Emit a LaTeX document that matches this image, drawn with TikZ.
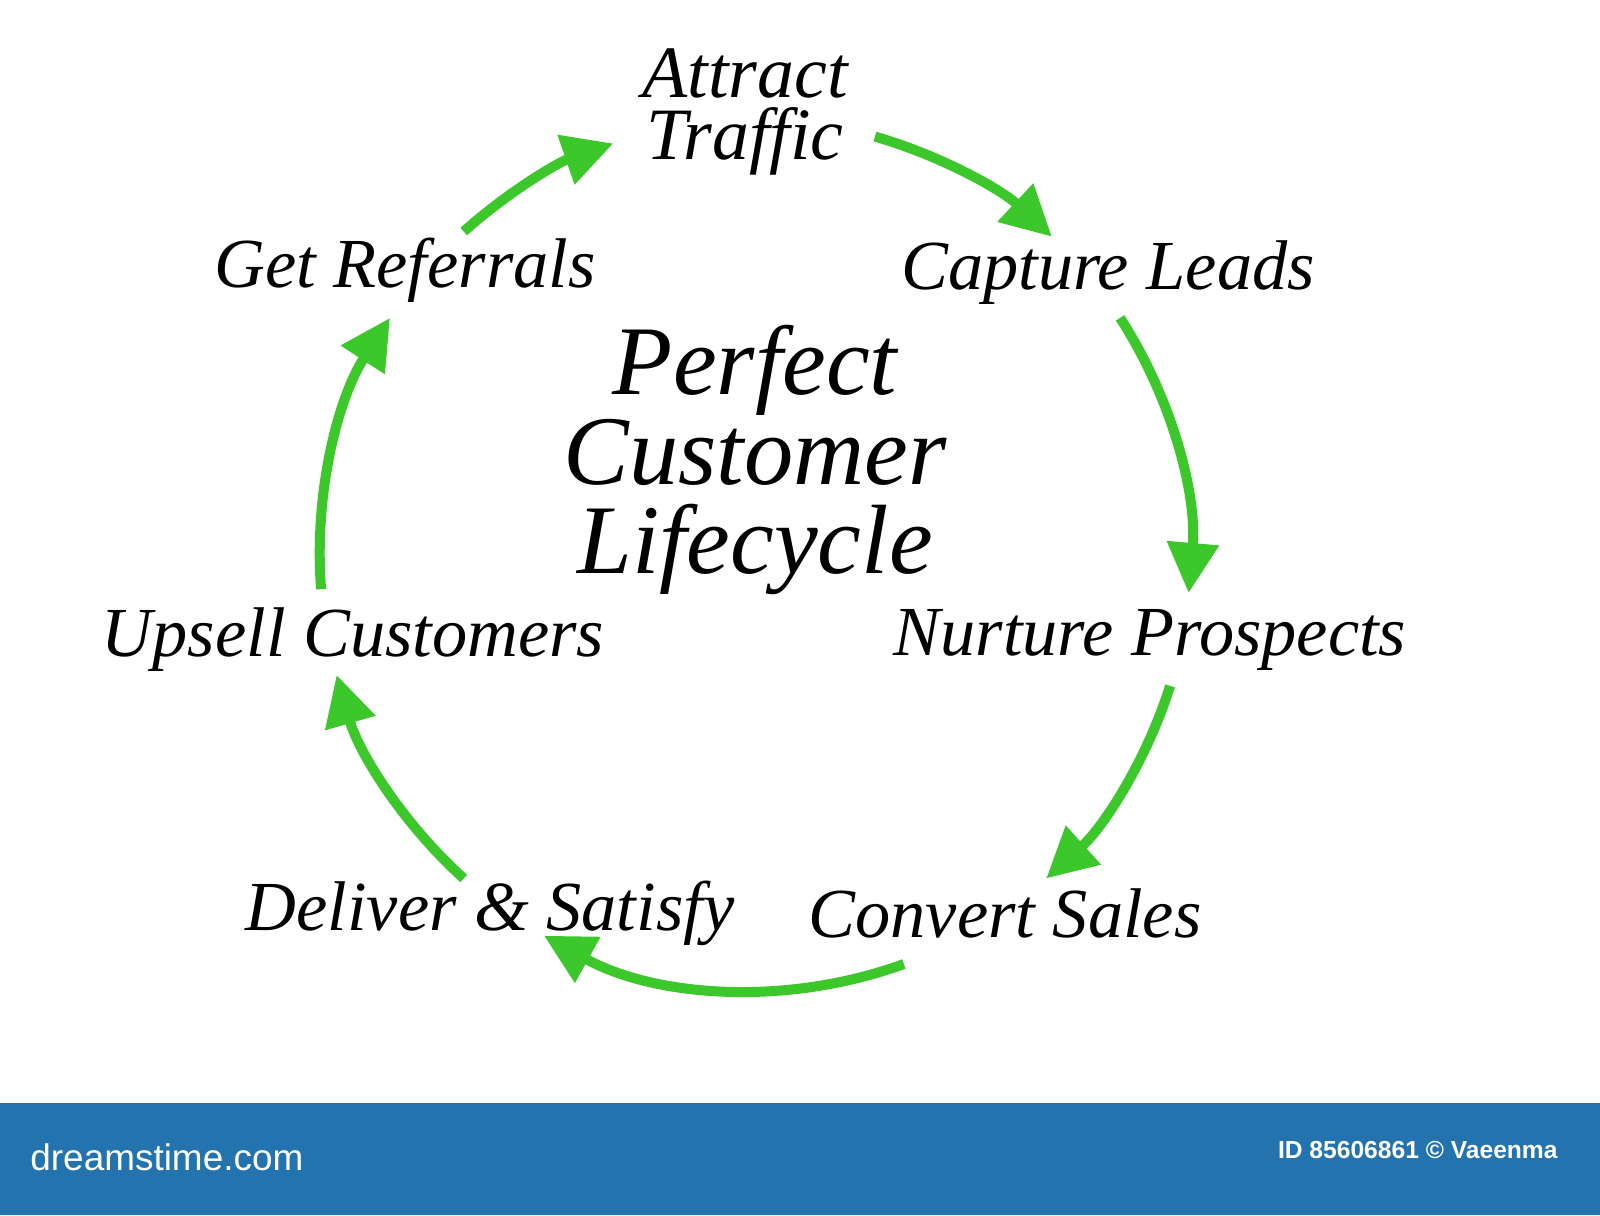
\documentclass[tikz,border=0pt]{standalone}
\usepackage{fontspec}
\setmainfont{Liberation Serif}
\newfontfamily\bannerfont{Liberation Sans}
\usetikzlibrary{arrows.meta,calc}
\definecolor{arrgreen}{HTML}{3CC82A}
\definecolor{bannerblue}{HTML}{2273AE}
\begin{document}
\begin{tikzpicture}[x=0.01cm,y=-0.01cm,
  lbl/.style={font=\fontsize{20}{24}\selectfont\itshape,align=center},
  arr/.style={draw=arrgreen,line width=0.1cm,-{Triangle[length=0.5cm,width=0.5cm]}}]
\useasboundingbox (0,0) rectangle (1600,1215);
\fill[white] (0,0) rectangle (1600,1215);
\fill[bannerblue] (0,1103) rectangle (1600,1215);
\node[anchor=west,text=white,font=\bannerfont\fontsize{10.5}{12}\selectfont] (bl) at (18,1157) {dreamstime.com};
\node[anchor=east,text=white,font=\bannerfont\bfseries\fontsize{7}{9}\selectfont] (br) at (1570,1150) {ID 85606861 © Vaeenma};

\coordinate (c) at (755,555);
\node[lbl,font=\fontsize{21}{17.5}\selectfont\itshape] (at) at (745,112) {Attract\\Traffic};
\node[lbl] (gr) at (405,270) {Get Referrals};
\node[lbl] (cl) at (1108,273) {Capture Leads};
\node[align=center,font=\fontsize{28}{25.5}\selectfont\itshape] (t) at (755,460) {Perfect\\Customer\\Lifecycle};
\node[lbl] (uc) at (353,640) {Upsell Customers};
\node[lbl] (np) at (1150,640) {Nurture Prospects};
\node[lbl] (ds) at (490,913) {Deliver \& Satisfy};
\node[lbl] (cs) at (1005,913) {Convert Sales};

\def\R{4.35cm}
\draw[arr] ($(c)+(74:\R)$) arc (74:47:\R);
\draw[arr] ($(c)+(33:\R)$) arc (33:-5:\R);
\draw[arr] ($(c)+(-17.5:\R)$) arc (-17.5:-48:\R);
\draw[arr] ($(c)+(-70:\R)$) arc (-70:-119:\R);
\draw[arr] ($(c)+(-132:\R)$) arc (-132:-164:\R);
\draw[arr] ($(c)+(184.5:\R)$) arc (184.5:147:\R);
\draw[arr] ($(c)+(132:\R)$) arc (132:109:\R);
\end{tikzpicture}
\end{document}
